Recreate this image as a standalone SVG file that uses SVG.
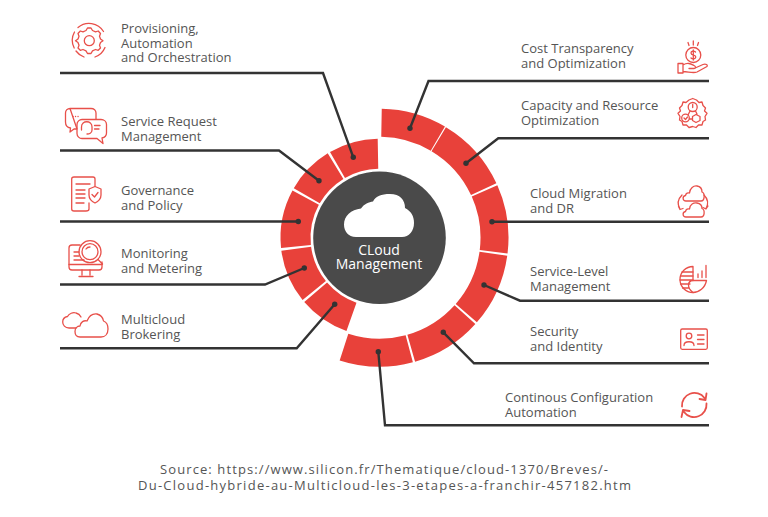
<svg xmlns="http://www.w3.org/2000/svg" width="768" height="517" viewBox="0 0 768 517">
<style>
text{font-family:"Open Sans","Liberation Sans",sans-serif;font-size:13px;fill:#555}
.src{font-size:13px;fill:#555;text-anchor:middle}
.ctr{fill:#fff;font-size:14px;text-anchor:middle}
.seg{fill:none;stroke:#e8413a}
.o{stroke-width:28}.i{stroke-width:30}
.ic{fill:none;stroke:#e8504a;stroke-width:1.3;stroke-linecap:round;stroke-linejoin:round}
.c{fill:none;stroke:#333;stroke-width:2.4}
.d{fill:#333}
</style>
<defs>
<circle id="ro" cx="0" cy="0" r="115" pathLength="360"/>
<circle id="ri" cx="0" cy="0" r="84" pathLength="360"/>
</defs>
<rect width="768" height="517" fill="#fff"/>

<g id="rings" transform="translate(379.5 237.7)">
<g transform="rotate(-90)">
<use href="#ro" class="seg o" stroke-dasharray="29.5 330.5" transform="rotate(1)"/>
<use href="#ro" class="seg o" stroke-dasharray="34 326" transform="rotate(31)"/>
<use href="#ro" class="seg o" stroke-dasharray="31 329" transform="rotate(66)"/>
<use href="#ro" class="seg o" stroke-dasharray="33 327" transform="rotate(98)"/>
<use href="#ro" class="seg o" stroke-dasharray="32 328" transform="rotate(132)"/>
<use href="#ro" class="seg o" stroke-dasharray="33 327" transform="rotate(165)"/>
<use href="#ri" class="seg i" stroke-dasharray="29 331" transform="rotate(330)"/>
<use href="#ri" class="seg i" stroke-dasharray="28.5 331.5" transform="rotate(300)"/>
<use href="#ri" class="seg i" stroke-dasharray="34.5 325.5" transform="rotate(264)"/>
<use href="#ri" class="seg i" stroke-dasharray="31.5 328.5" transform="rotate(231)"/>
<use href="#ri" class="seg i" stroke-dasharray="30 330" transform="rotate(199.5)"/>
</g>
</g>

<g id="connectors">
<path class="c" d="M60 73H323L353.3 157.3"/><circle class="d" cx="353.3" cy="157.3" r="2.7"/>
<path class="c" d="M60 150.5H279L319 180.7"/><circle class="d" cx="319" cy="180.7" r="2.7"/>
<path class="c" d="M60 221.5H298.3"/><circle class="d" cx="298.3" cy="221.5" r="2.7"/>
<path class="c" d="M60 284.5H265L304.3 268"/><circle class="d" cx="304.3" cy="268" r="2.7"/>
<path class="c" d="M60 348.3H296.7L334.7 304.3"/><circle class="d" cx="334.7" cy="304.3" r="2.7"/>
<path class="c" d="M709 81H428.5L410 128.3"/><circle class="d" cx="410" cy="128.3" r="2.7"/>
<path class="c" d="M709 138.3H498.3L466 163.3"/><circle class="d" cx="466" cy="163.3" r="2.7"/>
<path class="c" d="M709 221.7H492"/><circle class="d" cx="492" cy="221.7" r="2.7"/>
<path class="c" d="M709 300.7H520L484 285"/><circle class="d" cx="484" cy="285" r="2.7"/>
<path class="c" d="M709 363.3H474L443.3 332.3"/><circle class="d" cx="443.3" cy="332.3" r="2.7"/>
<path class="c" d="M709 425.3H385L378.3 351.7"/><circle class="d" cx="378.3" cy="351.7" r="2.7"/>
</g>

<g id="hub">
<circle cx="379.5" cy="237.8" r="66.3" fill="#4a4a4a"/>
<path fill="#fff" d="M356 237C348 237 344 231 344 224.500C344 216 351 209.500 361 208.500C364 204 369 202 373 201.500C376 196 381 194 390 194C400 194 405 200 405 208C411 211 414 216 414 223C414 231 409 237 402 237Z"/>
<text class="ctr" x="379" y="255">CLoud</text>
<text class="ctr" x="379" y="268.500">Management</text>
</g>

<g id="provisioning">
<circle class="ic" cx="89.300" cy="40.700" r="5"/>
<path class="ic" d="M86 30.500L87.500 28H91L92.500 30.500L95.500 31.800L98.200 31L100.500 33.500L99.500 36.200L100.500 39L103 40.700L100.500 42.500L99.500 45.200L100.500 48L98.200 50.300L95.500 49.500L92.500 50.900L91 53.500H87.500L86 50.900L83 49.500L80.300 50.300L78 48L79 45.200L78 42.500L75.500 40.700L78 39L79 36.200L78 33.500L80.300 31L83 31.800Z"/>
<path class="ic" d="M78 27.500A17 17 0 0 1 103.500 31.500M74.200 48A17 17 0 0 1 74.500 32M84 57A17 17 0 0 1 76 51M105 47.500A17 17 0 0 1 95 57"/>
<text x="121" y="32.700">Provisioning,</text><text x="121" y="47.700">Automation</text><text x="121" y="62.300">and Orchestration</text>
</g>
<g id="service-request">
<path class="ic" d="M70 108.500H91C94 108.500 96 110.500 96 113V119M77 129H74L70 132L70.500 128C67 127.500 65.500 125 65.500 122V113C65.500 110.500 67.500 108.500 70 108.500Z"/>
<path class="ic" d="M82 119.500H101C104 119.500 106.500 121.500 106.500 124.500V133C106.500 136 104.500 137.500 102 138L103 143.500L97 138.500H82C79.500 138.500 77 136.500 77 133.500V124.500C77 121.500 79.500 119.500 82 119.500Z"/>
<path class="ic" d="M81.500 130V127C81.500 120 92 120 92 127V130M92 130C92 133 89 134 87 134"/>
<path class="ic" d="M94.500 125.500H100M94.500 129H99M73 116.500H73.100M75.500 116.500H75.600M78 116.500H78.100"/>
<text x="121" y="125.700">Service Request</text><text x="121" y="140.700">Management</text>
</g>
<g id="governance">
<path class="ic" d="M89 203V209C89 211 87 211 86 211H74C72.500 211 71.700 210 71.700 209V179C71.700 178 72.500 177 74 177H93C94 177 95 178 95 179V186"/>
<path class="ic" d="M76 184H90M76 190H85M76 194H85M76 198H85M76 203H84"/>
<path class="ic" d="M95 186.500L101 189V195C101 199 98 201.500 95 203C92 201.500 89 199 89 195V189Z"/>
<path class="ic" d="M92 194.500L94.500 197L98 192.500"/>
<text x="121" y="195">Governance</text><text x="121" y="210">and Policy</text>
</g>
<g id="monitoring">
<path class="ic" d="M80 245H72C70 245 69 246 69 248V267C69 269 70 270 72 270H99C101 270 102 269 102 267V262"/>
<path class="ic" d="M69 264.500H102M82 270V275M90 270V275M79 276.500H93M74 252H79M74 256H79M74 260H84"/>
<circle class="ic" cx="90" cy="251.700" r="11"/><circle class="ic" cx="90" cy="251.700" r="8"/>
<path class="ic" d="M98 259.500L102.500 264M86 249C87 247.500 88.500 247 90 247"/>
<text x="121" y="258.300">Monitoring</text><text x="121" y="273.300">and Metering</text>
</g>
<g id="multicloud">
<path class="ic" d="M76 328H69C65 328 62.700 325 62.700 322C62.700 319 65 317 67.500 316.500C69 313.500 73 312 76 313C78 313.500 80 315 81 317"/>
<path class="ic" d="M80 337C76 337 75 334 75 331.500C75 328.500 77 326 80 326C80.500 322 84 320 87 321C89 316 93 313.500 97 314C101 315 103 318 103.500 321C106.500 322 108 325 108 329C108 334 105 337 101 337Z"/>
<text x="121" y="324">Multicloud</text><text x="121" y="339.300">Brokering</text>
</g>
<g id="cost">
<circle class="ic" cx="693.300" cy="55" r="7.500"/>
<path class="ic" d="M693.300 41V45M688 42.500L689 45.500M698.500 42.500L697.500 45.500M695.500 52C694 50.500 691 51 691 53C691 56 695.800 54.500 695.800 57C695.800 59 692.500 59.500 691 58M693.300 50V60"/>
<path class="ic" d="M678 63.500H683V73H678ZM683 65C688 62 691 64 694 65.500C696 66.500 696 68.500 694 68.500H689M694 68.500L703 64.500C706 63.500 708 65 707 66.500L697 72C693 73.500 688 71.500 683 71.500"/>
<text x="521" y="53">Cost Transparency</text><text x="521" y="68">and Optimization</text>
</g>
<g id="capacity">
<path class="ic" d="M689 100L692.700 98.500L696.500 100L699 102.500L702 102L703 105.500L705.500 108L704.500 111L707 113.300L705 116.500L705.500 120L703 121.500L702 125L698.500 125L696 127.500L692.700 126.500L689 127.500L686.500 125L683 125L682 121.500L679.500 120L680 116.500L678 113.300L680.500 111L679.500 108L682 105.500L683 102L686 102.500Z"/>
<circle class="ic" cx="692.700" cy="107" r="4.500"/><circle class="ic" cx="685.500" cy="118" r="3.800"/>
<path class="ic" d="M696 114.500L700 116.500V120.500L696 122.500L692.500 120.500V116.500ZM692.700 104.500V107.500M690 111L688 115M695.500 111L697 114M689.500 119H692.500M684 118L685.500 119.500L687.500 117"/>
<text x="521" y="110">Capacity and Resource</text><text x="521" y="125">Optimization</text>
</g>
<g id="migration">
<path class="ic" d="M686 201C682.500 201 682 196 685.500 195.500C686 193 688 192.500 689.500 193C690 188 693.500 185.500 697 186C700 186.500 702 189 702 192C705 193 705 201 701 201Z"/>
<path class="ic" d="M686 217C682.500 217 682 212 685.500 211.500C686 209 688 208.500 689.500 209C690 204 693.500 202.500 697 203C700 203.500 702 205.500 702 208.500C705 209.500 705 217 701 217Z"/>
<path class="ic" d="M682 195C678 199 677 204 680 209M678.500 206.500L680 209.500L683 208.500M704 195C708 199 708.500 204 706 208.500M708 206L706 209L703 207.500"/>
<text x="530" y="198">Cloud Migration</text><text x="530" y="213">and DR</text>
</g>
<g id="service-level">
<path class="ic" d="M693 266.500A13 13 0 1 0 693 292.500C699 292.500 705 288 706.500 280.500H693ZM693 266.500V280.500"/>
<path class="ic" d="M693 292.500C687 288 687 281 693 280.500M682 272H693M680.500 276H693M680 280H693M680.500 284H690M682.500 288H689M698 277.500V274M702 277.500V271M706 277.500V265.500"/>
<text x="530" y="276">Service-Level</text><text x="530" y="291">Management</text>
</g>
<g id="security">
<rect class="ic" x="680.700" y="329" width="26.600" height="20.300" rx="1.500"/>
<circle class="ic" cx="689" cy="336" r="2.800"/>
<path class="ic" d="M684 345.500C684 340.500 694 340.500 694 345.500M697.500 335H704M697.500 339.500H704M697.500 344H704"/>
<text x="530" y="336">Security</text><text x="530" y="351">and Identity</text>
</g>
<g id="automation">
<path class="ic" style="stroke-width:1.800" d="M682 406.500A12.500 12.500 0 0 1 704.500 398M706.500 393.500L705.500 400L699.500 399M706.500 403.500A12.500 12.500 0 0 1 684 412M681.500 417L683 410L689.500 411"/>
<text x="505" y="402">Continous Configuration</text><text x="505" y="417">Automation</text>
</g>

<g id="source">
<text class="src" x="384" y="474" textLength="448">Source: https://www.silicon.fr/Thematique/cloud-1370/Breves/-</text>
<text class="src" x="384.500" y="490" textLength="493">Du-Cloud-hybride-au-Multicloud-les-3-etapes-a-franchir-457182.htm</text>
</g>
</svg>
